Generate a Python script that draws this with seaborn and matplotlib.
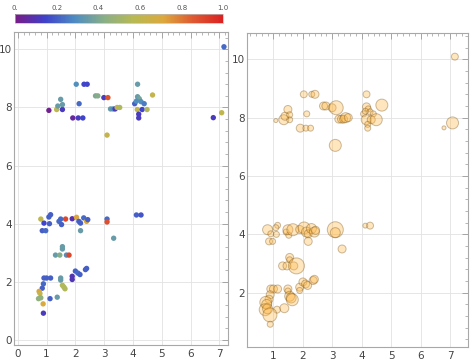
import numpy as np
import pandas as pd
import seaborn as sns
import matplotlib
matplotlib.use('Agg')
import matplotlib.pyplot as plt
from matplotlib.colors import LinearSegmentedColormap, Normalize
from matplotlib.cm import ScalarMappable
from matplotlib.ticker import AutoMinorLocator

# taškų koordinatės (x, y), spalvos reikšmė c (0..1) ir burbulo svoris w
x = [1.08, 1.35, 1.55, 1.39, 1.49, 1.55, 2.13, 2.03, 2.30, 2.41,
     1.91, 2.10, 2.26, 2.70, 2.78, 2.99, 3.13, 3.10, 3.22, 3.31,
     3.38, 3.45, 3.54, 4.16, 4.16, 4.22, 4.28, 4.06, 4.12, 4.39,
     4.15, 4.32, 4.49, 4.20, 4.20, 4.68, 6.79, 7.08, 7.16,
     0.80, 1.14, 1.08, 0.91, 1.10, 0.85, 0.97, 1.43, 1.52, 1.49,
     1.66, 1.89, 2.04, 2.12, 2.18, 2.29, 2.39, 2.43, 2.18, 3.10,
     3.10, 3.33, 4.12, 4.28, 1.55, 1.55, 1.31, 1.46, 1.69, 1.78,
     0.91, 1.00, 1.14, 0.89, 0.85, 1.49, 1.49, 1.55, 1.60, 1.64,
     1.89, 1.89, 2.00, 2.09, 2.16, 2.35, 2.39, 0.74, 0.77, 0.72,
     0.80, 1.12, 1.37, 0.88, 0.89]
y = [7.90, 7.93, 7.93, 8.05, 8.28, 8.10, 8.13, 8.80, 8.80, 8.80,
     7.64, 7.64, 7.64, 8.40, 8.40, 8.34, 8.34, 7.05, 7.95, 7.95,
     7.95, 8.00, 8.00, 8.80, 8.37, 8.30, 8.20, 8.13, 8.22, 8.13,
     7.93, 7.93, 7.93, 7.77, 7.64, 8.43, 7.65, 7.82, 10.09,
     4.16, 4.31, 4.23, 4.02, 4.00, 3.76, 3.76, 4.08, 3.97, 4.16,
     4.16, 4.17, 4.22, 4.08, 4.02, 4.20, 4.08, 4.14, 3.76, 4.16,
     4.06, 3.50, 4.30, 4.30, 3.21, 3.13, 2.92, 2.92, 2.92, 2.92,
     2.13, 2.13, 2.13, 1.93, 1.78, 2.13, 2.06, 1.88, 1.82, 1.76,
     2.19, 2.08, 2.37, 2.30, 2.25, 2.42, 2.46, 1.67, 1.60, 1.42,
     1.45, 1.42, 1.47, 1.24, 0.92]
c = [0.02, 0.60, 0.12, 0.35, 0.35, 0.35, 0.22, 0.30, 0.15, 0.15,
     0.05, 0.12, 0.15, 0.40, 0.42, 0.12, 0.87, 0.62, 0.35, 0.30,
     0.12, 0.60, 0.55, 0.35, 0.35, 0.38, 0.30, 0.20, 0.30, 0.25,
     0.60, 0.15, 0.55, 0.12, 0.12, 0.62, 0.12, 0.60, 0.22,
     0.60, 0.20, 0.20, 0.15, 0.20, 0.20, 0.22, 0.22, 0.20, 0.22,
     0.90, 0.08, 0.72, 0.20, 0.20, 0.22, 0.70, 0.20, 0.35, 0.22,
     0.88, 0.35, 0.20, 0.18, 0.35, 0.35, 0.35, 0.42, 0.30, 0.90,
     0.20, 0.20, 0.20, 0.22, 0.20, 0.35, 0.35, 0.55, 0.55, 0.55,
     0.10, 0.10, 0.20, 0.22, 0.20, 0.20, 0.20, 0.72, 0.62, 0.45,
     0.45, 0.20, 0.35, 0.70, 0.12]
w = [4, 25, 9, 16, 16, 9, 9, 12, 9, 16,
     16, 9, 9, 16, 16, 16, 49, 36, 16, 16,
     16, 25, 16, 12, 16, 9, 9, 9, 9, 9,
     25, 16, 36, 9, 9, 36, 4, 36, 12,
     25, 9, 9, 9, 9, 12, 9, 9, 9, 25,
     36, 16, 36, 25, 16, 25, 25, 16, 16, 64,
     25, 16, 6, 12, 16, 9, 16, 16, 16, 64,
     16, 16, 16, 16, 16, 16, 9, 25, 25, 36,
     16, 9, 16, 16, 16, 16, 16, 36, 25, 36,
     25, 12, 20, 49, 9]

cbar_ticks = [0, 0.2, 0.4, 0.6, 0.8, 1.0]
cbar_labels = ['0.', '0.2', '0.4', '0.6', '0.8', '1.0']

df = pd.DataFrame({'x': x, 'y': y, 'c': c, 'w': w})

# Mathematica "Rainbow" panaši spalvų skalė
rainbow = LinearSegmentedColormap.from_list('rainbow_m', [
    (0.471, 0.109, 0.527), (0.249, 0.255, 0.794), (0.303, 0.548, 0.761),
    (0.541, 0.687, 0.526), (0.722, 0.727, 0.321), (0.864, 0.659, 0.242),
    (0.871, 0.346, 0.190), (0.857, 0.131, 0.132)])
norm = Normalize(0, 1)

sns.set_style('white')
plt.rcParams['font.family'] = ['DejaVu Sans']

fig = plt.figure(figsize=(4.74, 3.63), dpi=100)
ax1 = fig.add_axes([0.029, 0.05, 0.452, 0.862])
ax2 = fig.add_axes([0.521, 0.044, 0.466, 0.865])

sns.scatterplot(data=df, x='x', y='y', hue='c', palette=rainbow, hue_norm=norm,
                s=15, linewidth=0, legend=False, ax=ax1, zorder=3)

sns.scatterplot(data=df, x='x', y='y', size='w', sizes=(8.3, 132.7), legend=False,
                color=(1.0, 0.72, 0.28), alpha=0.35, edgecolor='#6b4508',
                linewidth=0.7, ax=ax2, zorder=3)

ax1.set_xlim(-0.14, 7.3)
ax1.set_ylim(-0.17, 10.6)
ax1.set_xticks(range(0, 8))
ax1.set_yticks(range(0, 11, 2))
ax2.set_xlim(0.1, 7.6)
ax2.set_ylim(0.14, 10.9)
ax2.set_xticks(range(1, 8))
ax2.set_yticks(range(2, 11, 2))

for ax in (ax1, ax2):
    ax.set_xlabel('')
    ax.set_ylabel('')
    ax.grid(True, color='#e2e2e2', linewidth=0.6, zorder=0)
    ax.set_axisbelow(True)
    ax.xaxis.set_minor_locator(AutoMinorLocator(5))
    ax.yaxis.set_minor_locator(AutoMinorLocator(5))
    ax.tick_params(which='both', direction='in', top=True, right=True,
                   color='#9a9a9a', labelsize=7.5, labelcolor='#444444')
    ax.tick_params(which='major', length=4, width=0.6, pad=3)
    ax.tick_params(which='minor', length=2, width=0.5)
    ax.tick_params(axis='y', which='major', pad=1.5)
    for sp in ax.spines.values():
        sp.set_color('#a8a8a8')
        sp.set_linewidth(0.8)

# spalvų juosta viršuje
cax = fig.add_axes([0.032, 0.937, 0.439, 0.025])
cb = fig.colorbar(ScalarMappable(norm=norm, cmap=rainbow), cax=cax, orientation='horizontal')
cb.set_ticks(cbar_ticks)
cb.set_ticklabels(cbar_labels)
cax.xaxis.set_ticks_position('top')
cax.tick_params(length=0, labelsize=5, labelcolor='#555555', pad=2)
cb.outline.set_edgecolor('#bbbbbb')
cb.outline.set_linewidth(0.5)

fig.savefig('out.png', dpi=100)
